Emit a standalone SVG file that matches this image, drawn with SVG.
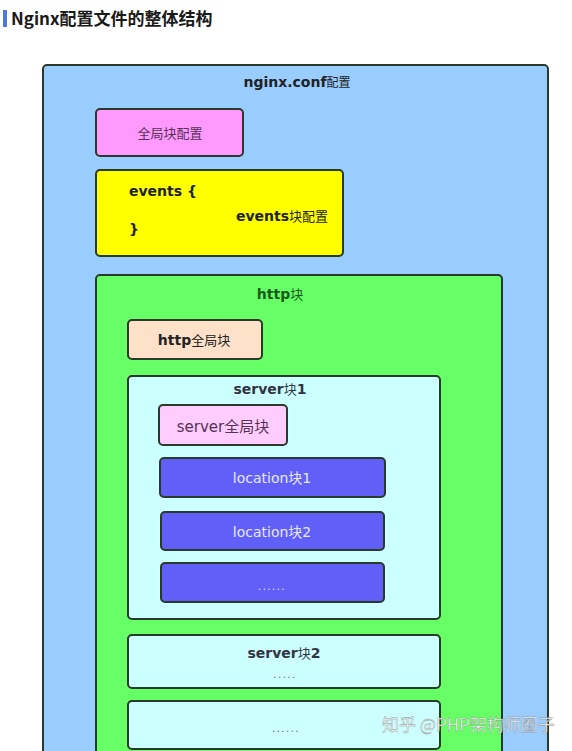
<svg xmlns="http://www.w3.org/2000/svg" width="572" height="751" viewBox="0 0 572 751">
<style>
.box{stroke:#2a3a2a;stroke-width:2}
.t{font-family:"DejaVu Sans","Noto Sans CJK SC",sans-serif;font-size:14px;fill:#222;text-anchor:middle}
.b{font-weight:bold}
.w{fill:#e8e8ff}
.dots{font-size:10px;letter-spacing:1.5px}
</style>
<rect width="572" height="751" fill="#ffffff"/>
<g id="title">
<rect x="3" y="10" width="4" height="17" fill="#4a7bd8"/>
<text x="11" y="25" style="font-family:'Noto Sans CJK SC','DejaVu Sans',sans-serif;font-size:17px;font-weight:bold;fill:#1a1a1a">Nginx配置文件的整体结构</text>
</g>
<g id="nginx-conf">
<rect class="box" x="43" y="65" width="505" height="700" rx="4" fill="#99ccff"/>
<text class="t b" x="297" y="87">nginx.conf<tspan style="font-weight:normal;font-size:12px">配置</tspan></text>
</g>
<g id="global">
<rect class="box" x="96" y="109" width="147" height="47" rx="4" fill="#ff99ff"/>
<text class="t" x="170" y="138" style="font-size:13px;fill:#553355">全局块配置</text>
</g>
<g id="events">
<rect class="box" x="96" y="170" width="247" height="86" rx="4" fill="#ffff00"/>
<text class="t b" x="129" y="196" style="text-anchor:start">events {</text>
<text class="t b" x="129" y="234" style="text-anchor:start">}</text>
<text class="t b" x="282" y="221">events<tspan style="font-weight:normal;font-size:13px">块配置</tspan></text>
</g>
<g id="http">
<rect class="box" x="96" y="275" width="406" height="490" rx="4" fill="#66ff66"/>
<text class="t b" x="280" y="299" style="fill:#1a5a1a">http<tspan style="font-weight:normal;font-size:13px">块</tspan></text>
</g>
<g id="http-global">
<rect class="box" x="128" y="320" width="134" height="39" rx="4" fill="#ffe0c8"/>
<text class="t b" x="194" y="345">http<tspan style="font-weight:normal;font-size:13px">全局块</tspan></text>
</g>
<g id="server1">
<rect class="box" x="128" y="376" width="312" height="243" rx="4" fill="#ccffff"/>
<text class="t b" x="270" y="394" style="fill:#334">server<tspan style="font-weight:normal;font-size:13px">块</tspan>1</text>
</g>
<g id="server-global">
<rect class="box" x="159" y="405" width="128" height="40" rx="4" fill="#ffccff"/>
<text class="t" x="223" y="432" style="font-size:15px;fill:#553355">server全局块</text>
</g>
<g id="location1">
<rect class="box" x="160" y="458" width="225" height="39" rx="4" fill="#6060f8"/>
<text class="t w" x="272" y="483">location块1</text>
</g>
<g id="location2">
<rect class="box" x="161" y="512" width="223" height="38" rx="4" fill="#6060f8"/>
<text class="t w" x="272" y="537">location块2</text>
</g>
<g id="location-more">
<rect class="box" x="161" y="563" width="223" height="39" rx="4" fill="#6060f8"/>
<text class="t w dots" x="272" y="590">......</text>
</g>
<g id="server2">
<rect class="box" x="128" y="635" width="312" height="53" rx="4" fill="#ccffff"/>
<text class="t b" x="284" y="658" style="fill:#334">server<tspan style="font-weight:normal;font-size:13px">块</tspan>2</text>
<text class="t dots" x="285" y="678" style="fill:#667">.....</text>
</g>
<g id="server-more">
<rect class="box" x="128" y="701" width="312" height="48" rx="4" fill="#ccffff"/>
<text class="t dots" x="286" y="732" style="fill:#667">......</text>
</g>
<g id="connectors"></g>
<g id="watermark">
<text x="382" y="731" style="font-family:'Noto Sans CJK SC',sans-serif;font-size:17px;fill:#ffffff;stroke:#888;stroke-width:0.4;opacity:0.9">知乎 @PHP架构师圈子</text>
</g>
</svg>
